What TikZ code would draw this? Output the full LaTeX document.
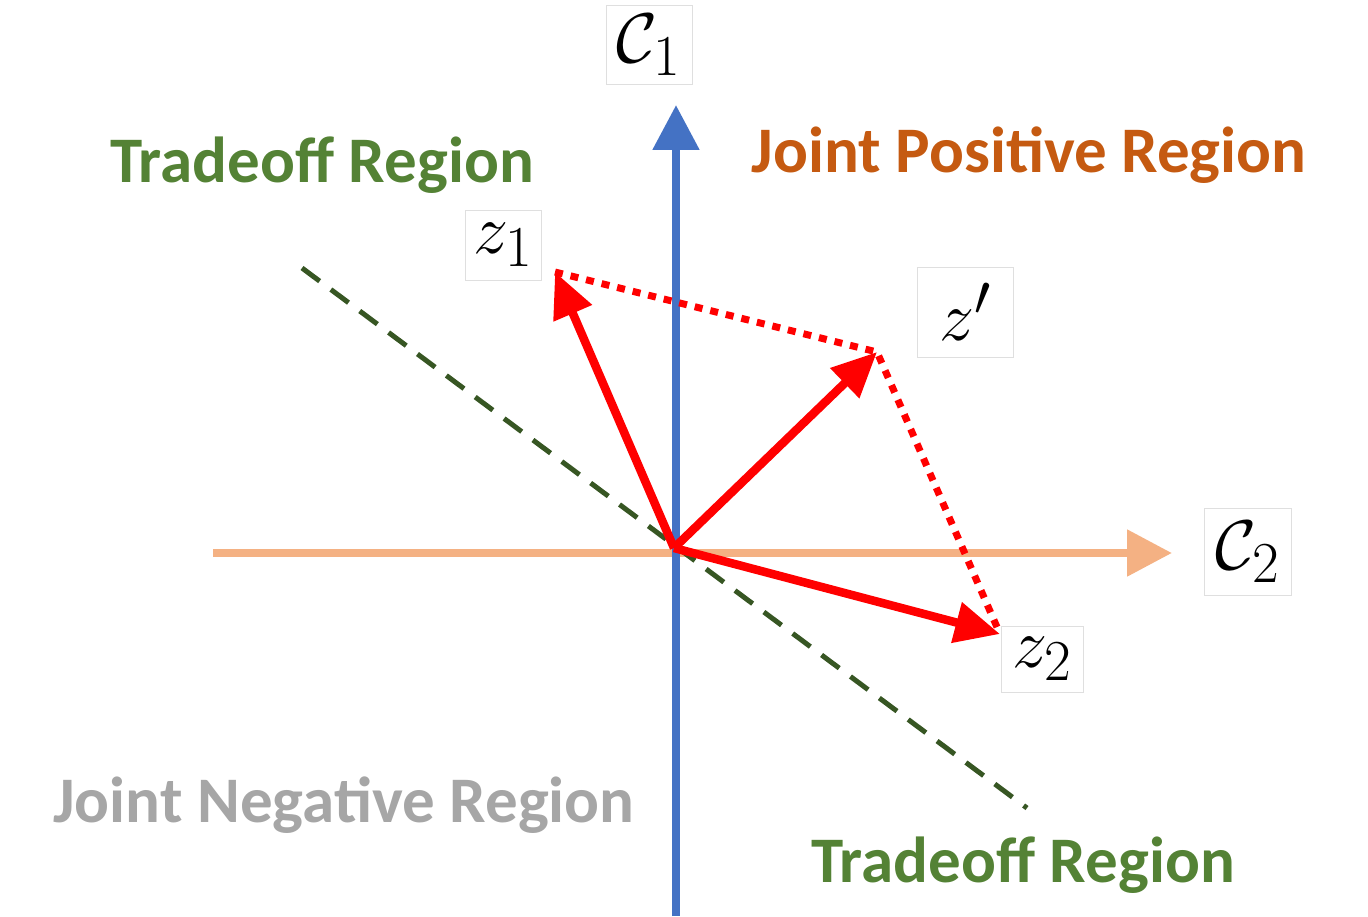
\RequirePackage{fix-cm}
\documentclass[tikz,border=0pt]{standalone}
\usepackage{fontspec}
\setmainfont{Carlito}
\usetikzlibrary{arrows.meta}
\DeclareMathSizes{40}{40}{33}{26}
\definecolor{axisblue}{HTML}{4472C4}
\definecolor{axisorange}{HTML}{F4B183}
\definecolor{tradegreen}{HTML}{548235}
\definecolor{dashgreen}{HTML}{375623}
\definecolor{posorange}{HTML}{C55A11}
\definecolor{neggray}{HTML}{A6A6A6}
\tikzstyle{region} =
        [
                font = \fontsize{37}{40}\selectfont\bfseries
        ]
\tikzstyle{vlabel} =
        [
                rectangle,
                draw = gray!25,
                fill = white,
                font = \fontsize{40}{44}\selectfont,
                inner sep = 2pt
        ]
\tikzstyle{axis} =
        [
                line width = 0.17cm,
                -{Triangle[length=0.9cm,width=0.9cm]}
        ]
\tikzstyle{vec} =
        [
                red,
                line width = 0.17cm,
                -{Triangle[length=0.9cm,width=0.8cm]}
        ]
\tikzstyle{proj} =
        [
                red,
                line width = 0.14cm,
                dash pattern = on 0.16cm off 0.16cm
        ]

\begin{document}
\begin{tikzpicture}[x=0.02cm, y=-0.02cm]
    \useasboundingbox (0,0) rectangle (1368,916);
    % axes
    \coordinate (ybot) at (676,916);
    \coordinate (ytop) at (676,105);
    \coordinate (xl) at (213,553);
    \coordinate (xr) at (1172,553);
    \draw [axis, axisorange] (xl) -- (xr);
    \draw [axis, axisblue] (ybot) -- (ytop);
    % tradeoff boundary
    \coordinate (d1) at (302,268);
    \coordinate (d2) at (1027,808);
    \draw [dashgreen, line width = 0.1cm, dash pattern = on 0.44cm off 0.28cm] (d1) -- (d2);
    % vectors
    \coordinate (o) at (674,548);
    \coordinate (t1) at (555,272);
    \coordinate (tp) at (877,352);
    \coordinate (t2) at (1000,634);
    \draw [proj] (t1) -- (tp) -- (t2);
    \draw [vec] (o) -- (t1);
    \draw [vec] (o) -- (tp);
    \draw [vec] (o) -- (t2);
    % labels
    \node [vlabel, minimum width = 1.72cm, minimum height = 1.58cm] (c1) at (649,45) {$\mathcal{C}_1$};
    \node [vlabel, minimum width = 1.74cm, minimum height = 1.74cm] (c2) at (1248,552) {$\mathcal{C}_2$};
    \node [vlabel, minimum width = 1.52cm, minimum height = 1.4cm] (z1) at (503,245) {$z_1$};
    \node [vlabel, minimum width = 1.92cm, minimum height = 1.8cm] (zp) at (965,312) {$z'$};
    \node [vlabel, minimum width = 1.64cm, minimum height = 1.32cm] (z2) at (1042,659) {$z_2$};
    % regions
    \node [region, tradegreen] (trade1) at (322,165) {Tradeoff Region};
    \node [region, posorange] (pos) at (1029,155) {Joint Positive Region};
    \node [region, neggray] (neg) at (344,805) {Joint Negative Region};
    \node [region, tradegreen] (trade2) at (1023,865) {Tradeoff Region};
\end{tikzpicture}
\end{document}
